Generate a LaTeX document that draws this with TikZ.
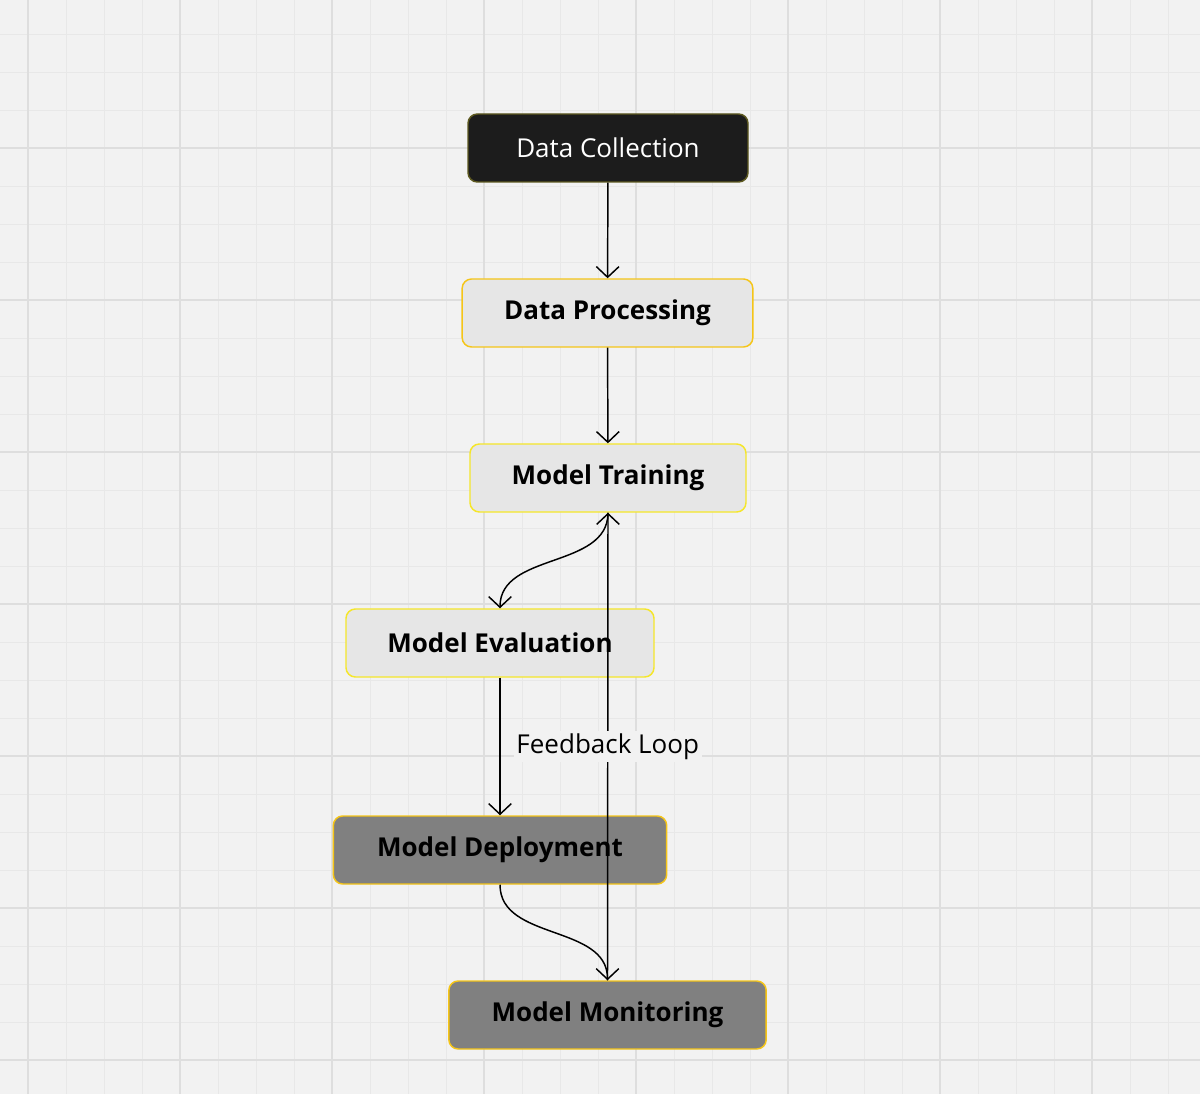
\documentclass[tikz,border=0pt]{standalone}
\usepackage{fontspec}
\setmainfont{Open Sans}
\usepackage{xcolor}
\usetikzlibrary{arrows.meta}
\definecolor{paper}{HTML}{F2F2F2}
\definecolor{gridminor}{HTML}{E8E8E8}
\definecolor{gridmajor}{HTML}{DEDEDE}
\definecolor{darkbox}{HTML}{1C1C1C}
\definecolor{lightbox}{HTML}{E6E6E6}
\definecolor{greybox}{HTML}{808080}
\definecolor{amber}{HTML}{F5C518}
\definecolor{lemon}{HTML}{F5E62A}

\begin{document}
\begin{tikzpicture}[
			x = 0.75pt, y = -0.75pt, % one unit is one pixel
			> = {Straight Barb[length=8pt, width=17pt]}, % open arrow head
			line width = 1.1pt, % line style
			stage/.style = {rectangle, rounded corners=7pt, line width=1.1pt,
				minimum height=51pt, inner sep=0pt, text=black,
				font=\fontsize{19.5}{22}\selectfont\bfseries},
		]
		% background and grid
		\useasboundingbox (0,0) rectangle (1200,1094);
		\clip (0,0) rectangle (1200,1094);
		\fill[paper] (0,0) rectangle (1200,1094);
		\foreach \k in {0,...,31} {
			\draw[gridminor, line width=0.6pt] (28+38*\k,0) -- (28+38*\k,1094);
			\draw[gridminor, line width=0.6pt] (0,34+38*\k) -- (1200,34+38*\k);
		}
		\foreach \k in {0,...,7} {
			\draw[gridmajor, line width=0.8pt] (28+152*\k,0) -- (28+152*\k,1094);
			\draw[gridmajor, line width=0.8pt] (0,148+152*\k) -- (1200,148+152*\k);
		}

		\node[stage, fill=darkbox, draw=lemon!30!darkbox, text=white, minimum width=210pt,
			font=\fontsize{19.5}{22}\selectfont] (collect) at (608,148){Data Collection};
		\node[stage, fill=lightbox, draw=amber, minimum width=218pt] (process) at (607.5,313){Data Processing};
		\node[stage, fill=lightbox, draw=lemon, minimum width=207pt] (train) at (608,478){Model Training};
		\node[stage, fill=lightbox, draw=lemon, minimum width=231pt] (eval) at (500,643){Model Evaluation};
		\node[stage, fill=greybox, draw=amber, minimum width=250pt] (deploy) at (500,850){Model Deployment};
		\node[stage, fill=greybox, draw=amber, minimum width=238pt] (monitor) at (607.5,1015){Model Monitoring};

		\draw[->] (collect) to (process);
		\draw[->] (process) to (train);
		\draw[->] (train.south) to[out=-90, in=90] (eval.north);
		\draw[->] (eval) to (deploy);
		\draw[->] (deploy.south) to[out=-90, in=90] (monitor.north);
		\draw[->] (monitor.north) -- node[fill=paper, inner sep=2pt,
			font=\fontsize{19.5}{22}\selectfont]{Feedback Loop} (train.south);
\end{tikzpicture}
\end{document}
